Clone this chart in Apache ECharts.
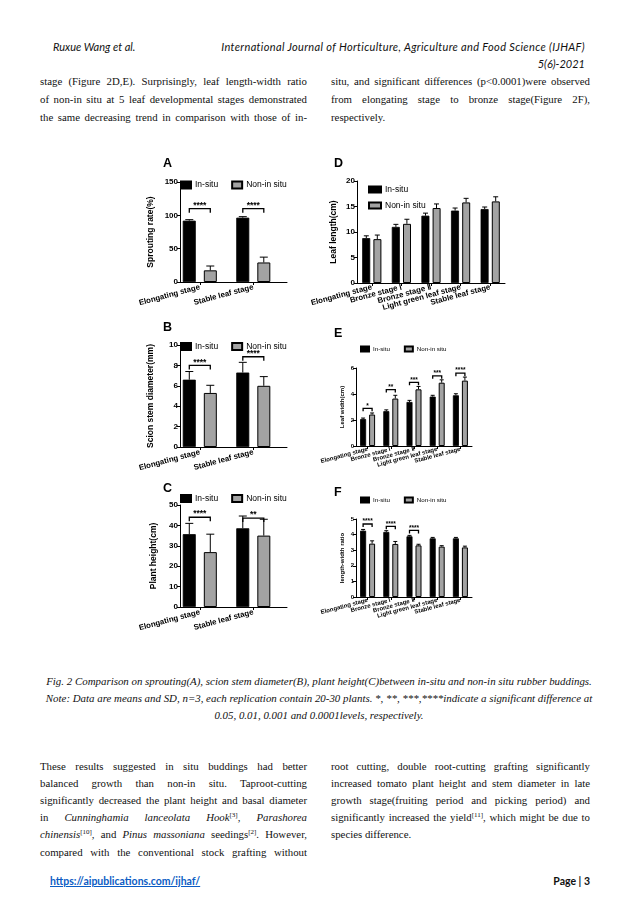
<!DOCTYPE html>
<html>
<head>
<meta charset="utf-8">
<script src="https://cdn.jsdelivr.net/npm/echarts@6.0.0/dist/echarts.min.js"></script>
<style>
  html, body { margin:0; padding:0; background:#fff; }
  #page { position:relative; width:638px; height:902px; overflow:hidden; background:#fff; }
  #chart { position:absolute; left:0; top:0; width:638px; height:902px; z-index:2; }
  .hdr { position:absolute; font-family:'Lato', sans-serif; font-style:italic; font-size:11px; color:#111; white-space:nowrap; line-height:13px; }
  .ln { position:absolute; font-family:'Liberation Serif', serif; font-size:10.8px; color:#111; white-space:nowrap; line-height:17px; height:17px; text-align:justify; text-align-last:justify; }
  .ln.last { text-align-last:left; }
  .cap { position:absolute; left:0; width:638px; text-align:center; font-family:'Liberation Serif', serif; font-style:italic; font-size:10.9px; color:#111; white-space:nowrap; line-height:17px; }
  .ft { position:absolute; font-family:'Lato', sans-serif; font-weight:bold; font-size:10.5px; line-height:13px; white-space:nowrap; }
  sup { font-size:7px; line-height:0; vertical-align:4px; }
  i { font-style:italic; }
</style>
</head>
<body>
<div id="page">
  <div class="hdr" style="left:53px; top:40px;">Ruxue Wang et al.</div>
  <div class="hdr" style="right:53px; top:40px; letter-spacing:0.35px;">International Journal of Horticulture, Agriculture and Food Science (IJHAF)</div>
  <div class="hdr" style="right:53px; top:57px;">5(6)-2021</div>

  <div class="ln" style="left:40px; width:267px; top:73px;">stage (Figure 2D,E). Surprisingly, leaf length-width ratio</div>
  <div class="ln" style="left:40px; width:267px; top:91px;">of non-in situ at 5 leaf developmental stages demonstrated</div>
  <div class="ln" style="left:40px; width:267px; top:109px;">the same decreasing trend in comparison with those of in-</div>
  <div class="ln" style="left:331px; width:259px; top:73px;">situ, and significant differences (p&lt;0.0001)were observed</div>
  <div class="ln" style="left:331px; width:259px; top:91px;">from elongating stage to bronze stage(Figure 2F),</div>
  <div class="ln last" style="left:331px; width:259px; top:109px;">respectively.</div>

  <div class="cap" style="top:673px;">Fig. 2 Comparison on sprouting(A), scion stem diameter(B), plant height(C)between in-situ and non-in situ rubber buddings.</div>
  <div class="cap" style="top:690px;">Note: Data are means and SD, n=3, each replication contain 20-30 plants. *, **, ***,****indicate a significant difference at</div>
  <div class="cap" style="top:707px;">0.05, 0.01, 0.001 and 0.0001levels, respectively.</div>

  <div class="ln" style="left:40px; width:267px; top:758px;">These results suggested in situ buddings had better</div>
  <div class="ln" style="left:40px; width:267px; top:775px;">balanced growth than non-in situ. Taproot-cutting</div>
  <div class="ln" style="left:40px; width:267px; top:792px;">significantly decreased the plant height and basal diameter</div>
  <div class="ln" style="left:40px; width:267px; top:809px;">in <i>Cunninghamia lanceolata Hook</i><sup>[3]</sup>, <i>Parashorea</i></div>
  <div class="ln" style="left:40px; width:267px; top:826px;"><i>chinensis</i><sup>[10]</sup>, and <i>Pinus massoniana</i> seedings<sup>[2]</sup>. However,</div>
  <div class="ln" style="left:40px; width:267px; top:844px;">compared with the conventional stock grafting without</div>
  <div class="ln" style="left:331px; width:259px; top:758px;">root cutting, double root-cutting grafting significantly</div>
  <div class="ln" style="left:331px; width:259px; top:775px;">increased tomato plant height and stem diameter in late</div>
  <div class="ln" style="left:331px; width:259px; top:792px;">growth stage(fruiting period and picking period) and</div>
  <div class="ln" style="left:331px; width:259px; top:809px;">significantly increased the yield<sup>[11]</sup>, which might be due to</div>
  <div class="ln last" style="left:331px; width:259px; top:826px;">species difference.</div>

  <div class="ft" style="left:50px; top:875px; color:#0b5cc4; text-decoration:underline;">https://aipublications.com/ijhaf/</div>
  <div class="ft" style="right:48px; top:875px; color:#111;">Page | 3</div>

  <div id="chart"></div>
</div>
<script>
// ---------------- data ----------------
const stages2 = ['Elongating stage', 'Stable leaf stage'];
const stages5 = ['Elongating stage', 'Bronze stage Ⅰ', 'Bronze stage Ⅱ', 'Light green leaf stage', 'Stable leaf stage'];
const legendNames = ['In-situ', 'Non-in situ'];

// A: sprouting rate (%)
const sproutIn = [92, 96.5];
const sproutInSD = [1.5, 1.5];
const sproutNon = [17.5, 29.3];
const sproutNonSD = [6.5, 8];
const sproutSig = [110, 110];
const sproutStars = ['****', '****'];

// B: scion stem diameter (mm)
const stemIn = [6.6, 7.3];
const stemInSD = [0.8, 1.0];
const stemNon = [5.3, 6.0];
const stemNonSD = [0.75, 0.9];
const stemSig = [8.0, 8.85];
const stemStars = ['****', '****'];

// C: plant height (cm)
const heightIn = [35.7, 38.6];
const heightInSD = [5.3, 6.0];
const heightNon = [26.9, 35.0];
const heightNonSD = [8.8, 8.0];
const heightSig = [44, 43.6];
const heightStars = ['****', '**'];

// D: leaf length (cm)
const lengthIn = [8.8, 11.0, 13.2, 14.2, 14.5];
const lengthInSD = [0.45, 0.5, 0.5, 0.5, 0.4];
const lengthNon = [8.6, 11.6, 14.7, 15.8, 16.0];
const lengthNonSD = [0.8, 0.9, 0.8, 0.8, 0.9];

// E: leaf width (cm)
const widthIn = [2.07, 2.68, 3.39, 3.8, 3.9];
const widthInSD = [0.08, 0.1, 0.12, 0.1, 0.12];
const widthNon = [2.42, 3.65, 4.36, 4.87, 5.03];
const widthNonSD = [0.12, 0.25, 0.22, 0.22, 0.27];
const widthSig = [2.9, 4.34, 4.9, 5.4, 5.6];
const widthStars = ['*', '**', '***', '***', '****'];

// F: length-width ratio
const ratioIn = [4.25, 4.17, 3.89, 3.76, 3.76];
const ratioInSD = [0.08, 0.08, 0.06, 0.06, 0.06];
const ratioNon = [3.42, 3.40, 3.31, 3.23, 3.18];
const ratioNonSD = [0.18, 0.16, 0.07, 0.06, 0.08];
const ratioSig = [4.68, 4.53, 4.27, null, null];
const ratioStars = ['****', '****', '****', '', ''];

// ---------------- chart ----------------
const FONT = 'Liberation Sans';
const BLACK = '#000';
const GRAY = '#a3a3a3';

const option = {
  animation: false,
  backgroundColor: 'transparent',
  title: [], grid: [], xAxis: [], yAxis: [], legend: [], series: []
};

function errRender(dx, cap) {
  return function (params, api) {
    const i = api.value(0), v = api.value(1), s = api.value(2);
    const b = api.coord([i, v]);
    const t = api.coord([i, v + s]);
    const x = b[0] + dx;
    return {
      type: 'group', children: [
        { type: 'line', shape: { x1: x, y1: b[1], x2: x, y2: t[1] }, style: { stroke: BLACK, lineWidth: 1 } },
        { type: 'line', shape: { x1: x - cap, y1: t[1], x2: x + cap, y2: t[1] }, style: { stroke: BLACK, lineWidth: 1 } }
      ]
    };
  };
}

function brRender(dx, drop, stars, fs) {
  return function (params, api) {
    const i = api.value(0), h = api.value(1);
    const p = api.coord([i, h]);
    const xl = p[0] - dx, xr = p[0] + dx, y = p[1];
    return {
      type: 'group', children: [
        { type: 'polyline', shape: { points: [[xl, y + drop], [xl, y], [xr, y], [xr, y + drop]] },
          style: { stroke: BLACK, lineWidth: 1.3, fill: null } },
        { type: 'text', style: { text: stars[Math.round(i)], x: p[0], y: y + fs * 0.15, align: 'center', verticalAlign: 'bottom',
          font: 'bold ' + fs + 'px ' + FONT, fill: BLACK } }
      ]
    };
  };
}

function addPanel(cfg) {
  const g = option.grid.length;
  option.grid.push({ left: cfg.grid[0], top: cfg.grid[1], width: cfg.grid[2], height: cfg.grid[3], outerBoundsMode: 'none', containLabel: false });
  option.title.push({ text: cfg.letter, left: cfg.letterPos[0], top: cfg.letterPos[1], padding: 0,
    textStyle: { fontFamily: FONT, fontWeight: 'bold', fontSize: 12.5, color: BLACK } });
  const two = cfg.cats.length === 2;
  const labelCommon = { rotate: 15, fontSize: cfg.xfs, fontWeight: 'bold', color: BLACK, fontFamily: FONT, margin: cfg.xMargin };
  if (two) {
    option.xAxis.push({
      type: 'value', gridIndex: g, min: -0.37, max: 1.63,
      axisLine: { show: true, onZero: false, lineStyle: { color: BLACK, width: 1 } },
      splitLine: { show: false },
      axisTick: { show: true, customValues: [0, 1], length: 3, lineStyle: { color: BLACK } },
      axisLabel: Object.assign({ customValues: [0, 1], formatter: v => cfg.cats[Math.round(v)] }, labelCommon)
    });
  } else {
    option.xAxis.push({
      type: 'category', gridIndex: g, data: cfg.cats,
      axisLine: { show: true, onZero: false, lineStyle: { color: BLACK, width: 1 } },
      axisTick: { show: true, alignWithLabel: true, length: 3, lineStyle: { color: BLACK } },
      axisLabel: Object.assign({ interval: 0 }, labelCommon)
    });
  }
  option.yAxis.push({
    type: 'value', gridIndex: g, min: cfg.y[0], max: cfg.y[1], interval: cfg.y[2],
    axisLine: { show: true, onZero: false, lineStyle: { color: BLACK, width: 1 } },
    axisTick: { show: true, length: 3, lineStyle: { color: BLACK } },
    splitLine: { show: false },
    axisLabel: { fontSize: cfg.yfs, fontWeight: 'bold', color: BLACK, fontFamily: FONT, margin: 2 },
    name: cfg.yname, nameLocation: 'middle', nameGap: cfg.nameGap,
    nameTextStyle: { fontSize: cfg.nfs, fontWeight: 'bold', color: BLACK, fontFamily: FONT }
  });
  option.legend.push(Object.assign({
    data: legendNames, selectedMode: false, icon: 'rect', padding: 0,
    textStyle: { fontSize: cfg.lfs, color: BLACK, fontFamily: FONT, padding: [0, 0, 0, -1] }
  }, cfg.legend));
  const toXY = two ? (arr => arr.map((v, i) => [i, v])) : (arr => arr.slice());
  option.series.push({
    type: 'bar', name: legendNames[0], xAxisIndex: g, yAxisIndex: g, data: toXY(cfg.inV),
    barWidth: cfg.bw, barGap: cfg.gap, itemStyle: { color: BLACK, borderColor: BLACK, borderWidth: 0.8 }
  });
  option.series.push({
    type: 'bar', name: legendNames[1], xAxisIndex: g, yAxisIndex: g, data: toXY(cfg.nonV),
    barWidth: cfg.bw, barGap: cfg.gap, itemStyle: { color: GRAY, borderColor: BLACK, borderWidth: 1 }
  });
  const half = cfg.dx;
  option.series.push({
    type: 'custom', name: 'err-in-' + g, xAxisIndex: g, yAxisIndex: g, z: 5, silent: true, clip: false,
    renderItem: errRender(-half, cfg.cap), data: cfg.inV.map((v, i) => [i, v, cfg.inSD[i]])
  });
  option.series.push({
    type: 'custom', name: 'err-non-' + g, xAxisIndex: g, yAxisIndex: g, z: 5, silent: true, clip: false,
    renderItem: errRender(half, cfg.cap), data: cfg.nonV.map((v, i) => [i, v, cfg.nonSD[i]])
  });
  if (cfg.sig) {
    option.series.push({
      type: 'custom', name: 'sig-' + g, xAxisIndex: g, yAxisIndex: g, z: 6, silent: true, clip: false,
      renderItem: brRender(half, cfg.drop, cfg.stars, cfg.sfs),
      data: cfg.sig.map((h, i) => [i, h]).filter(d => d[1] !== null)
    });
  }
}

// A
addPanel({ letter: 'A', letterPos: [163, 157], grid: [180, 182, 107, 100], cats: stages2, y: [0, 150, 50],
  yname: 'Sprouting rate(%)', nameGap: 25, nfs: 8.5, yfs: 8, xfs: 7.8, xMargin: 5, lfs: 8.5,
  legend: { left: 180, top: 180.5, itemWidth: 10, itemHeight: 7, itemGap: 13 },
  inV: sproutIn, inSD: sproutInSD, nonV: sproutNon, nonSD: sproutNonSD,
  bw: 13, gap: '62%', dx: 10.5, cap: 4, sig: sproutSig, stars: sproutStars, drop: 4, sfs: 8.5 });
// B
addPanel({ letter: 'B', letterPos: [163, 321], grid: [180, 345, 107, 102], cats: stages2, y: [0, 10, 2],
  yname: 'Scion stem diameter(mm)', nameGap: 25, nfs: 8.5, yfs: 8, xfs: 7.8, xMargin: 5, lfs: 8.5,
  legend: { left: 180, top: 342, itemWidth: 10, itemHeight: 7, itemGap: 13 },
  inV: stemIn, inSD: stemInSD, nonV: stemNon, nonSD: stemNonSD,
  bw: 13, gap: '62%', dx: 10.5, cap: 4, sig: stemSig, stars: stemStars, drop: 4, sfs: 8.5 });
// C
addPanel({ letter: 'C', letterPos: [163, 482], grid: [180, 505, 107, 102], cats: stages2, y: [0, 50, 10],
  yname: 'Plant height(cm)', nameGap: 22, nfs: 8.5, yfs: 8, xfs: 7.8, xMargin: 5, lfs: 8.5,
  legend: { left: 180, top: 494, itemWidth: 10, itemHeight: 7, itemGap: 13 },
  inV: heightIn, inSD: heightInSD, nonV: heightNon, nonSD: heightNonSD,
  bw: 13, gap: '62%', dx: 10.5, cap: 4, sig: heightSig, stars: heightStars, drop: 4, sfs: 8.5 });
// D
addPanel({ letter: 'D', letterPos: [334, 157], grid: [357, 181, 148, 102], cats: stages5, y: [0, 20, 5],
  yname: 'Leaf length(cm)', nameGap: 19, nfs: 8.5, yfs: 8, xfs: 7.8, xMargin: 4, lfs: 8.5,
  legend: { left: 368, top: 185, orient: 'vertical', itemWidth: 12, itemHeight: 6, itemGap: 7 },
  inV: lengthIn, inSD: lengthInSD, nonV: lengthNon, nonSD: lengthNonSD,
  bw: 8, gap: '40%', dx: 5.5, cap: 2.5, sig: null });
// E
addPanel({ letter: 'E', letterPos: [334, 327], grid: [356, 368, 116, 78], cats: stages5, y: [0, 6, 2],
  yname: 'Leaf width(cm)', nameGap: 11, nfs: 6, yfs: 6, xfs: 6, xMargin: 3, lfs: 6.2,
  legend: { left: 360, top: 345.5, itemWidth: 8, itemHeight: 5, itemGap: 14 },
  inV: widthIn, inSD: widthInSD, nonV: widthNon, nonSD: widthNonSD,
  bw: 6, gap: '50%', dx: 4.5, cap: 2, sig: widthSig, stars: widthStars, drop: 3, sfs: 6.5 });
// F
addPanel({ letter: 'F', letterPos: [334, 486], grid: [356, 519, 116, 78], cats: stages5, y: [0, 5, 1],
  yname: 'length-width ratio', nameGap: 11, nfs: 6, yfs: 6, xfs: 6, xMargin: 3, lfs: 6.2,
  legend: { left: 360, top: 496.5, itemWidth: 8, itemHeight: 5, itemGap: 14 },
  inV: ratioIn, inSD: ratioInSD, nonV: ratioNon, nonSD: ratioNonSD,
  bw: 6, gap: '50%', dx: 4.5, cap: 2, sig: ratioSig, stars: ratioStars, drop: 3, sfs: 6.5 });

const chart = echarts.init(document.getElementById('chart'), null, { renderer: 'canvas' });
chart.setOption(option);
</script>
</body>
</html>
